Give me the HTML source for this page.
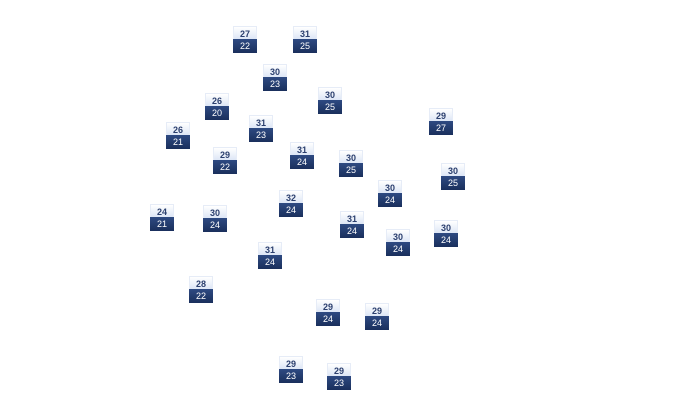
<!DOCTYPE html>
<html><head><meta charset="utf-8"><style>
html,body{margin:0;padding:0;background:#fff;width:700px;height:410px;overflow:hidden;position:relative;font-family:"Liberation Sans",sans-serif;}
.m{position:absolute;width:24px;height:27px;font-size:9px;text-align:center;}
.t{height:13px;line-height:14px;background:linear-gradient(#ffffff,#dde6f6);color:#2b3f6e;font-weight:bold;box-sizing:border-box;border:1px solid #e6ecf7;border-bottom:none;}
.b{height:14px;line-height:14px;background:linear-gradient(#2e4a82,#1a2f5c);color:#fff;}
</style></head><body>
<div class="m" style="left:233px;top:26px"><div class="t">27</div><div class="b">22</div></div>
<div class="m" style="left:293px;top:26px"><div class="t">31</div><div class="b">25</div></div>
<div class="m" style="left:263px;top:64px"><div class="t">30</div><div class="b">23</div></div>
<div class="m" style="left:205px;top:93px"><div class="t">26</div><div class="b">20</div></div>
<div class="m" style="left:318px;top:87px"><div class="t">30</div><div class="b">25</div></div>
<div class="m" style="left:249px;top:115px"><div class="t">31</div><div class="b">23</div></div>
<div class="m" style="left:429px;top:108px"><div class="t">29</div><div class="b">27</div></div>
<div class="m" style="left:166px;top:122px"><div class="t">26</div><div class="b">21</div></div>
<div class="m" style="left:290px;top:142px"><div class="t">31</div><div class="b">24</div></div>
<div class="m" style="left:213px;top:147px"><div class="t">29</div><div class="b">22</div></div>
<div class="m" style="left:339px;top:150px"><div class="t">30</div><div class="b">25</div></div>
<div class="m" style="left:441px;top:163px"><div class="t">30</div><div class="b">25</div></div>
<div class="m" style="left:378px;top:180px"><div class="t">30</div><div class="b">24</div></div>
<div class="m" style="left:279px;top:190px"><div class="t">32</div><div class="b">24</div></div>
<div class="m" style="left:150px;top:204px"><div class="t">24</div><div class="b">21</div></div>
<div class="m" style="left:203px;top:205px"><div class="t">30</div><div class="b">24</div></div>
<div class="m" style="left:340px;top:211px"><div class="t">31</div><div class="b">24</div></div>
<div class="m" style="left:434px;top:220px"><div class="t">30</div><div class="b">24</div></div>
<div class="m" style="left:386px;top:229px"><div class="t">30</div><div class="b">24</div></div>
<div class="m" style="left:258px;top:242px"><div class="t">31</div><div class="b">24</div></div>
<div class="m" style="left:189px;top:276px"><div class="t">28</div><div class="b">22</div></div>
<div class="m" style="left:316px;top:299px"><div class="t">29</div><div class="b">24</div></div>
<div class="m" style="left:365px;top:303px"><div class="t">29</div><div class="b">24</div></div>
<div class="m" style="left:279px;top:356px"><div class="t">29</div><div class="b">23</div></div>
<div class="m" style="left:327px;top:363px"><div class="t">29</div><div class="b">23</div></div>
</body></html>
